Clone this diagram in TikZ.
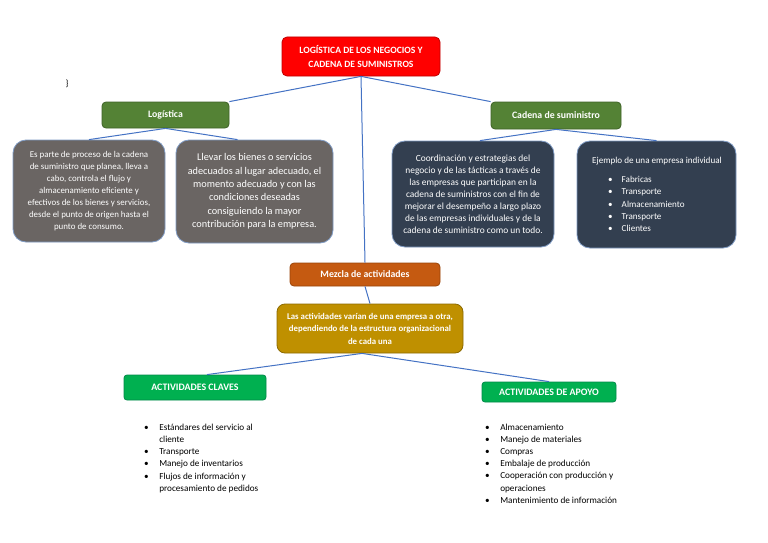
\documentclass[tikz,border=0pt]{standalone}
\usepackage{fontspec}
\setmainfont{Carlito}
\usepackage{xcolor}
\definecolor{titlered}{HTML}{FF0000}
\definecolor{titleedge}{HTML}{C00000}
\definecolor{leafgreen}{HTML}{548235}
\definecolor{leafedge}{HTML}{3E6227}
\definecolor{boxgray}{HTML}{6A6563}
\definecolor{boxslate}{HTML}{333F50}
\definecolor{boxedge}{HTML}{7F9BC4}
\definecolor{mixorange}{HTML}{C55A11}
\definecolor{mixedge}{HTML}{9A4409}
\definecolor{goldfill}{HTML}{BF9000}
\definecolor{goldedge}{HTML}{8C6A00}
\definecolor{actgreen}{HTML}{00B050}
\definecolor{actedge}{HTML}{00894A}
\definecolor{linkblue}{HTML}{4472C4}

\newcommand{\bul}{\textbullet}

\begin{document}
\begin{tikzpicture}[x=1pt, y=-1pt,
  card/.style={draw, line width=0.8pt, inner sep=0pt, align=center, text=white},
  headbox/.style={card, rounded corners=4pt, font=\fontsize{9.8}{11}\selectfont\bfseries},
  textcard/.style={card, rounded corners=13pt, draw=boxedge},
  link/.style={draw=linkblue, line width=1pt}]
  \fill[white] (0,0) rectangle (768,543);
  \useasboundingbox (0,0) rectangle (768,543);

  % top level
  \node[headbox, fill=titlered, draw=titleedge, minimum width=158pt, minimum height=39pt,
        rounded corners=5pt, font=\fontsize{9.6}{14}\selectfont\bfseries]
        (title) at (361,56.5) {LOGÍSTICA DE LOS NEGOCIOS Y\\CADENA DE SUMINISTROS};
  \node[font=\fontsize{9}{10}\selectfont] (brace) at (67,84) {\}};

  % logistica branch
  \node[headbox, fill=leafgreen, draw=leafedge, minimum width=127pt, minimum height=26pt]
        (logistica) at (165.5,115) {Logística};
  \node[textcard, fill=boxgray, minimum width=152pt, minimum height=102pt,
        font=\fontsize{8.9}{12}\selectfont] (defin) at (89,191)
        {Es parte de proceso de la cadena\\de suministro que planea, lleva a\\cabo, controla el flujo y\\almacenamiento eficiente y\\efectivos de los bienes y servicios,\\desde el punto de origen hasta el\\punto de consumo.};
  \node[textcard, fill=boxgray, minimum width=157pt, minimum height=103pt,
        font=\fontsize{10.3}{13.3}\selectfont] (objetivo) at (254.5,191.5)
        {Llevar los bienes o servicios\\adecuados al lugar adecuado, el\\momento adecuado y con las\\condiciones deseadas\\consiguiendo la mayor\\contribución para la empresa.};

  % cadena branch
  \node[headbox, fill=leafgreen, draw=leafedge, minimum width=130pt, minimum height=27pt]
        (cadena) at (556,115.5) {Cadena de suministro};
  \node[textcard, fill=boxslate, minimum width=162pt, minimum height=106pt,
        font=\fontsize{9.4}{12}\selectfont] (coord) at (473,194)
        {Coordinación y estrategias del\\negocio y de las tácticas a través de\\las empresas que participan en la\\cadena de suministros con el fin de\\mejorar el desempeño a largo plazo\\de las empresas individuales y de la\\cadena de suministro como un todo.};
  \node[textcard, fill=boxslate, minimum width=159pt, minimum height=107pt] (ejemplo) at (656.5,194.5) {};
  \node[anchor=base west, inner sep=0pt, text=white, font=\fontsize{9.1}{12.2}\selectfont]
        (ejlist) at (592,163)
        {\begin{tabular}[t]{@{}l@{}}
         Ejemplo de una empresa individual\\[7.5pt]
         \hspace{16pt}\bul\hspace{9pt}Fabricas\\
         \hspace{16pt}\bul\hspace{9pt}Transporte\\
         \hspace{16pt}\bul\hspace{9pt}Almacenamiento\\
         \hspace{16pt}\bul\hspace{9pt}Transporte\\
         \hspace{16pt}\bul\hspace{9pt}Clientes
         \end{tabular}};

  % actividades
  \node[headbox, fill=mixorange, draw=mixedge, minimum width=150pt, minimum height=23pt]
        (mezcla) at (365,274.5) {Mezcla de actividades};
  \node[card, fill=goldfill, draw=goldedge, rounded corners=8pt, minimum width=186pt,
        minimum height=49pt, font=\fontsize{8.8}{12.5}\selectfont\bfseries] (varian) at (370,328.5)
        {Las actividades varían de una empresa a otra,\\dependiendo de la estructura organizacional\\de cada una};
  \node[headbox, fill=actgreen, draw=actedge, rounded corners=3pt, minimum width=142pt,
        minimum height=25pt, font=\fontsize{9.9}{11}\selectfont\bfseries] (claves) at (195,387.5) {ACTIVIDADES CLAVES};
  \node[headbox, fill=actgreen, draw=actedge, rounded corners=3pt, minimum width=134pt,
        minimum height=20pt, font=\fontsize{9.9}{11}\selectfont\bfseries] (apoyo) at (549,392) {ACTIVIDADES DE APOYO};

  % lists
  \node[anchor=base west, inner sep=0pt, font=\fontsize{9.2}{12.3}\selectfont] (clavelist) at (144,430)
        {\begin{tabular}[t]{@{}l@{\hspace{10.5pt}}l@{}}
         \bul & Estándares del servicio al\\
              & cliente\\
         \bul & Transporte\\
         \bul & Manejo de inventarios\\
         \bul & Flujos de información y\\
              & procesamiento de pedidos
         \end{tabular}};
  \node[anchor=base west, inner sep=0pt, font=\fontsize{9.2}{12.2}\selectfont] (apoyolist) at (485,430)
        {\begin{tabular}[t]{@{}l@{\hspace{10.5pt}}l@{}}
         \bul & Almacenamiento\\
         \bul & Manejo de materiales\\
         \bul & Compras\\
         \bul & Embalaje de producción\\
         \bul & Cooperación con producción y\\
              & operaciones\\
         \bul & Mantenimiento de información
         \end{tabular}};

  % connectors
  \draw[link] (title.south) -- (logistica.north east);
  \draw[link] (title.south) -- (cadena.north west);
  \draw[link] (title.south) -- (mezcla.north);
  \draw[link] (logistica.south) -- (defin.north);
  \draw[link] (logistica.south) -- ([xshift=-17pt]objetivo.north);
  \draw[link] (cadena.south) -- ([xshift=7pt]coord.north);
  \draw[link] (cadena.south) -- (ejemplo.north);
  \draw[link] (mezcla.south) -- (varian.north);
  \draw[link] ([xshift=-8pt]varian.south) -- ([xshift=12pt]claves.north);
  \draw[link] ([xshift=-8pt]varian.south) -- (apoyo.north);
\end{tikzpicture}
\end{document}
